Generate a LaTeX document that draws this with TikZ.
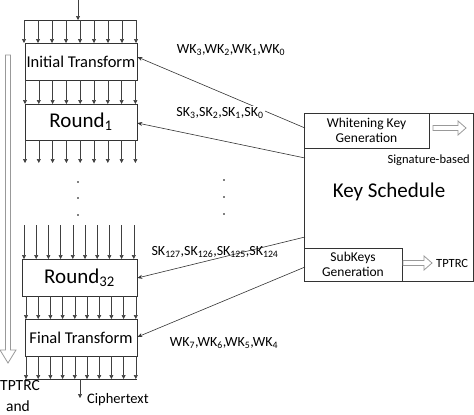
\documentclass[tikz,border=0pt]{standalone}
\usepackage{fontspec}
\setmainfont{Carlito}
\usetikzlibrary{arrows.meta,calc}
\newcommand\sbx[1]{\textsubscript{#1}}
\begin{document}
\begin{tikzpicture}[x=1pt,y=-1pt,
  blk/.style={draw=black!80,line width=0.7pt,inner sep=0pt},
  feed/.style={draw=black!75,line width=0.6pt,-{Triangle[length=4pt,width=4pt]}},
  conn/.style={draw=black!80,line width=0.6pt,-{Stealth[length=5pt,width=4pt]}},
  lbl/.style={fill=white,inner sep=1pt,font=\fontsize{14}{16}\selectfont},
  hollow/.style={draw=black!40,fill=white,line width=0.8pt},
  dotn/.style={circle,fill=black,inner sep=0pt,minimum size=1.6pt}]
\useasboundingbox (0,0) rectangle (474,415);

% left column boxes
\node[blk,minimum width=112pt,minimum height=37pt,font=\fontsize{16.5}{18}\selectfont] (it) at (81,61.5) {Initial Transform};
\node[blk,minimum width=112pt,minimum height=36pt,font=\fontsize{21}{23}\selectfont] (r1) at (81,122) {Round\sbx{1}};
\node[blk,minimum width=115pt,minimum height=37pt,font=\fontsize{21}{23}\selectfont] (r32) at (79.5,277.5) {Round\sbx{32}};
\node[blk,minimum width=112pt,minimum height=37pt,font=\fontsize{16.5}{18}\selectfont] (ft) at (81,337.5) {Final Transform};

% input
\coordinate (inl) at (24,20);
\coordinate (inr) at (136,20);
\coordinate (intop) at (78,0);
\draw[black!80,line width=0.6pt] (inl) -- (inr);
\draw[feed] (intop) -- (78,20);
\foreach \i in {0,...,8}{
  \draw[feed] (24+14*\i,20) -- (24+14*\i,43);
  \draw[feed] (25+13.8*\i,80) -- (25+13.8*\i,104);
  \draw[feed] (25+13.8*\i,140) -- (25+13.8*\i,163);
}
\foreach \i in {0,...,9}{
  \draw[feed] (24+12.2*\i,225) -- (24+12.2*\i,259);
  \draw[feed] (26+12.2*\i,296) -- (26+12.2*\i,319);
  \draw[feed] (26+12.2*\i,356) -- (26+12.2*\i,379);
}
\coordinate (outl) at (25,379);
\coordinate (outr) at (137,379);
\draw[black!80,line width=0.6pt] (outl) -- (outr);
\coordinate (outend) at (80,398);
\draw[feed] (80,379) -- (outend);
\node[anchor=west,font=\fontsize{14.5}{16}\selectfont,inner sep=0pt] (ct) at (87,400) {Ciphertext};

% dots
\node[dotn] (d1) at (78,182) {};
\node[dotn] (d2) at (78,198) {};
\node[dotn] (d3) at (78,215) {};
\node[dotn] (d4) at (224,180) {};
\node[dotn] (d5) at (224,197) {};
\node[dotn] (d6) at (224,214) {};

% big gray arrow
\draw[hollow] (5.5,55) -- (10.5,55) -- (10.5,350) -- (16,350) -- (8,363) -- (0,350) -- (5.5,350) -- cycle;
\node[font=\fontsize{15.5}{17}\selectfont,inner sep=0pt] (tp1) at (20,386) {TPTRC};
\node[font=\fontsize{15.5}{17}\selectfont,inner sep=0pt] (tp2) at (18,406) {and};

% key schedule
\node[blk,minimum width=169pt,minimum height=168pt] (ks) at (388.5,197) {};
\node[blk,minimum width=125pt,minimum height=35pt,align=center,font=\fontsize{13.5}{15}\selectfont] (wkg) at (366.5,130.5) {Whitening Key\\Generation};
\node[blk,minimum width=98pt,minimum height=33pt,align=center,font=\fontsize{13.5}{15}\selectfont] (skg) at (353,264.5) {SubKeys\\Generation};
\node[font=\fontsize{21}{23}\selectfont,inner sep=0pt] (kst) at (389,192) {Key Schedule};
\node[anchor=east,font=\fontsize{12.5}{14}\selectfont,inner sep=0pt] (sig) at (470,160) {Signature-based};
\node[anchor=west,font=\fontsize{12.5}{14}\selectfont,inner sep=0pt] (tp3) at (436,263) {TPTRC};
\draw[hollow] (433,125.5) -- (458,125.5) -- (458,121) -- (466,128) -- (458,135) -- (458,130.5) -- (433,130.5) -- cycle;
\draw[hollow] (403,260.5) -- (424,260.5) -- (424,256) -- (432,263) -- (424,270) -- (424,265.5) -- (403,265.5) -- cycle;

% connectors
\coordinate (k1) at (305,128);
\coordinate (k2) at (305,158);
\coordinate (k3) at (305,237);
\coordinate (k4) at (305,267);
\draw[conn] (k1) -- (it.east |- 0,57);
\draw[conn] (k2) -- (r1.east |- 0,123);
\draw[conn] (k3) -- (r32.east |- 0,278);
\draw[conn] (k4) -- (ft.east |- 0,337);

% labels
\node[lbl] (l1) at (231,50) {WK\sbx{3},WK\sbx{2},WK\sbx{1},WK\sbx{0}};
\node[lbl] (l2) at (220,113) {SK\sbx{3},SK\sbx{2},SK\sbx{1},SK\sbx{0}};
\node[lbl,fill=none] (l3) at (215,252) {SK\sbx{127},SK\sbx{126},SK\sbx{125},SK\sbx{124}};
\node[lbl] (l4) at (224,343) {WK\sbx{7},WK\sbx{6},WK\sbx{5},WK\sbx{4}};
\end{tikzpicture}
\end{document}
